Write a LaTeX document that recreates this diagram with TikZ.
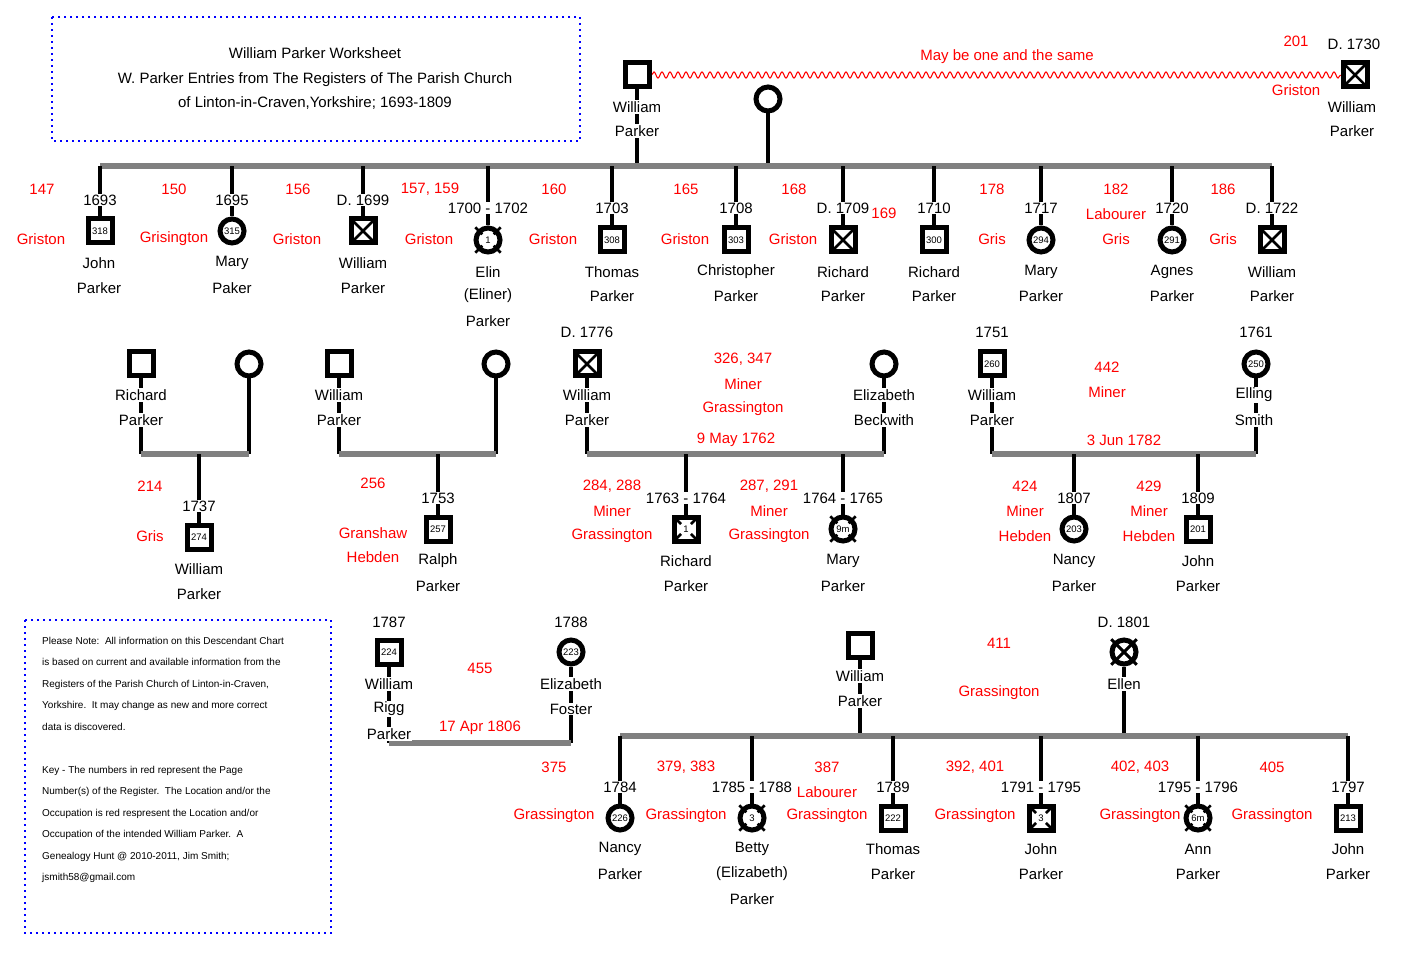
\documentclass[tikz,border=0pt]{standalone}
\usepackage{fontspec}
\setmainfont{Liberation Sans}
\usetikzlibrary{decorations.pathmorphing,backgrounds,calc}
\tikzset{
 x=1pt,y=-1pt,
 t/.style={font=\fontsize{15}{17}\selectfont, fill=white, inner sep=1pt},
 r/.style={font=\fontsize{15}{17}\selectfont, text=red, inner sep=1pt},
 m/.style={draw,line width=5pt,minimum size=24pt,inner sep=0pt,fill=white,font=\fontsize{9.5}{10}\selectfont},
 f/.style={m,circle},
 xfull/.style={path picture={\draw[line width=2.5pt] (path picture bounding box.north west) -- (path picture bounding box.south east) (path picture bounding box.north east) -- (path picture bounding box.south west);}},
 bar/.style={line width=5.5pt, draw=gray},
 v/.style={line width=4.5pt},
 box/.style={draw=blue,line width=2pt,dash pattern=on 2pt off 4pt},
}
\newcommand\ticks[3]{\foreach \a in {45,135,225,315}{\draw[line width=2.5pt] ($(#1.center)+(\a:#2)$) -- ($(#1.center)+(\a:#3)$);}}
\begin{document}
\begin{tikzpicture}
\useasboundingbox (0,0) rectangle (1411,957);
% title box
\draw[box] (52,17) rectangle (580,141);
\node[t,align=center,font=\fontsize{15}{24.5}\selectfont] (title) at (315,79) {William Parker Worksheet\\W. Parker Entries from The Registers of The Parish Church\\of Linton-in-Craven,Yorkshire; 1693-1809};
% note box
\draw[box] (25,620) rectangle (331,933);
\node[anchor=north west,align=left,inner sep=0pt,font=\fontsize{10}{21.5}\selectfont] (note) at (42,637) {Please Note:\ \ All information on this Descendant Chart\\is based on current and available information from the\\Registers of the Parish Church of Linton-in-Craven,\\Yorkshire.\ \ It may change as new and more correct\\data is discovered.\\[21.5pt]Key - The numbers in red represent the Page\\Number(s) of the Register.\ \ The Location and/or the\\Occupation is red respresent the Location and/or\\Occupation of the intended William Parker.\ \ A\\Genealogy Hunt @ 2010-2011, Jim Smith;\\jsmith58@gmail.com};

% ===== top generation
\node[m] (W0) at (637,75) {};
\node[t] at (637,107) {William};
\node[t] at (637,131) {Parker};
\node[f] (M0) at (768,99) {};
\node[m,xfull] (W1) at (1355,75) {};
\node[t] at (1352,107) {William};
\node[t] at (1352,131) {Parker};
\node[r] at (1296,41) {201};
\node[t] at (1354,44) {D. 1730};
\node[r] at (1296,90) {Griston};
\node[r] at (1007,57) {May be one and the same};
\coordinate (B1) at (0,166);

% gen1 children
\node[m] (c1) at (100,231) {318}; \node[t] at (100,200) {1693};
\node[t] at (99,263) {John}; \node[t] at (99,288) {Parker};
\node[r] at (42,189) {147}; \node[r] at (41,239) {Griston};
\node[f] (c2) at (232,231) {315}; \node[t] at (232,200) {1695};
\node[t] at (232,263) {Mary}; \node[t] at (232,288) {Paker};
\node[r] at (174,189) {150}; \node[r] at (174,239) {Grisington};
\node[m,xfull] (c3) at (363,231) {}; \node[t] at (363,200) {D. 1699};
\node[t] at (363,263) {William}; \node[t] at (363,288) {Parker};
\node[r] at (298,189) {156}; \node[r] at (297,239) {Griston};
\node[f] (c4) at (488,240) {1}; \node[t] at (488,208) {1700 - 1702};
\node[t] at (488,272) {Elin}; \node[t] at (488,296) {(Eliner)}; \node[t] at (488,321) {Parker};
\node[r] at (430,189) {157, 159}; \node[r] at (429,239) {Griston};
\node[m] (c5) at (612,240) {308}; \node[t] at (612,208) {1703};
\node[t] at (612,272) {Thomas}; \node[t] at (612,296) {Parker};
\node[r] at (554,189) {160}; \node[r] at (553,239) {Griston};
\node[m] (c6) at (736,240) {303}; \node[t] at (736,208) {1708};
\node[t] at (736,272) {Christopher}; \node[t] at (736,296) {Parker};
\node[r] at (686,189) {165}; \node[r] at (685,239) {Griston};
\node[m,xfull] (c7) at (843,240) {}; \node[t] at (843,208) {D. 1709};
\node[t] at (843,272) {Richard}; \node[t] at (843,296) {Parker};
\node[r] at (794,189) {168}; \node[r] at (793,239) {Griston}; \node[r] at (884,213) {169};
\node[m] (c8) at (934,240) {300}; \node[t] at (934,208) {1710};
\node[t] at (934,272) {Richard}; \node[t] at (934,296) {Parker};
\node[f] (c9) at (1041,240) {294}; \node[t] at (1041,208) {1717};
\node[t] at (1041,272) {Mary}; \node[t] at (1041,296) {Parker};
\node[r] at (992,189) {178}; \node[r] at (992,239) {Gris};
\node[f] (c10) at (1172,240) {291}; \node[t] at (1172,208) {1720};
\node[t] at (1172,272) {Agnes}; \node[t] at (1172,296) {Parker};
\node[r] at (1116,189) {182}; \node[r] at (1116,214) {Labourer}; \node[r] at (1116,239) {Gris};
\node[m,xfull] (c11) at (1272,240) {}; \node[t] at (1272,208) {D. 1722};
\node[t] at (1272,272) {William}; \node[t] at (1272,296) {Parker};
\node[r] at (1223,189) {186}; \node[r] at (1223,239) {Gris};

% ===== gen2 group A
\coordinate (B2) at (0,454);
\node[m] (RA) at (141,364) {}; \node[t] at (141,395) {Richard}; \node[t] at (141,420) {Parker};
\node[f] (FA) at (249,364) {};
\node[m] (KA) at (199,537) {274}; \node[t] at (199,506) {1737};
\node[t] at (199,569) {William}; \node[t] at (199,594) {Parker};
\node[r] at (150,486) {214}; \node[r] at (150,536) {Gris};
% group B
\node[m] (RB) at (339,364) {}; \node[t] at (339,395) {William}; \node[t] at (339,420) {Parker};
\node[f] (FB) at (496,364) {};
\node[m] (KB) at (438,529) {257}; \node[t] at (438,498) {1753};
\node[t] at (438,561) {Ralph}; \node[t] at (438,586) {Parker};
\node[r] at (373,483) {256}; \node[r] at (373,533) {Granshaw}; \node[r] at (373,557) {Hebden};
% group C
\node[m,xfull] (RC) at (587,364) {}; \node[t] at (587,332) {D. 1776};
\node[t] at (587,395) {William}; \node[t] at (587,420) {Parker};
\node[f] (FC) at (884,364) {}; \node[t] at (884,395) {Elizabeth}; \node[t] at (884,420) {Beckwith};
\node[r] at (743,359) {326, 347}; \node[r] at (743,384) {Miner}; \node[r] at (743,409) {Grassington};
\node[r] at (736,440) {9 May 1762};
\node[m] (KC1) at (686,529) {1}; \node[t] at (686,498) {1763 - 1764};
\node[t] at (686,561) {Richard}; \node[t] at (686,586) {Parker};
\node[r] at (612,486) {284, 288}; \node[r] at (612,511) {Miner}; \node[r] at (612,536) {Grassington};
\node[f] (KC2) at (843,529) {9m}; \node[t] at (843,498) {1764 - 1765};
\node[t] at (843,561) {Mary}; \node[t] at (843,586) {Parker};
\node[r] at (769,486) {287, 291}; \node[r] at (769,511) {Miner}; \node[r] at (769,536) {Grassington};
% group D
\node[m] (RD) at (992,364) {260}; \node[t] at (992,332) {1751};
\node[t] at (992,395) {William}; \node[t] at (992,420) {Parker};
\node[f] (FD) at (1256,364) {250}; \node[t] at (1256,332) {1761};
\node[t] at (1254,395) {Elling}; \node[t] at (1254,420) {Smith};
\node[r] at (1107,367) {442}; \node[r] at (1107,392) {Miner};
\node[r] at (1124,440) {3 Jun 1782};
\node[f] (KD1) at (1074,529) {203}; \node[t] at (1074,498) {1807};
\node[t] at (1074,561) {Nancy}; \node[t] at (1074,586) {Parker};
\node[r] at (1025,486) {424}; \node[r] at (1025,511) {Miner}; \node[r] at (1025,536) {Hebden};
\node[m] (KD2) at (1198,529) {201}; \node[t] at (1198,498) {1809};
\node[t] at (1198,561) {John}; \node[t] at (1198,586) {Parker};
\node[r] at (1149,486) {429}; \node[r] at (1149,511) {Miner}; \node[r] at (1149,536) {Hebden};

% ===== bottom: Rigg / Foster
\coordinate (B3) at (0,743);
\node[m] (WR) at (389,652) {224}; \node[t] at (389,622) {1787};
\node[t] at (389,684) {William}; \node[t] at (389,709) {Rigg}; \node[t] at (389,734) {Parker};
\node[f] (EF) at (571,652) {223}; \node[t] at (571,622) {1788};
\node[t] at (571,684) {Elizabeth}; \node[t] at (571,709) {Foster};
\node[r] at (480,668) {455}; \node[r] at (480,728) {17 Apr 1806};
% bottom right family
\coordinate (B4) at (0,736);
\node[m] (WB) at (860,645) {}; \node[t] at (860,676) {William}; \node[t] at (860,701) {Parker};
\node[f] (EB) at (1124,652) {}; \node[t] at (1124,622) {D. 1801}; \node[t] at (1124,684) {Ellen};
\node[r] at (999,643) {411}; \node[r] at (999,693) {Grassington};
\node[f] (k1) at (620,818) {226}; \node[t] at (620,787) {1784};
\node[t] at (620,849) {Nancy}; \node[t] at (620,874) {Parker};
\node[r] at (554,767) {375}; \node[r] at (554,816) {Grassington};
\node[f] (k2) at (752,818) {3}; \node[t] at (752,787) {1785 - 1788};
\node[t] at (752,849) {Betty}; \node[t] at (752,874) {(Elizabeth)}; \node[t] at (752,899) {Parker};
\node[r] at (686,767) {379, 383}; \node[r] at (686,816) {Grassington};
\node[m] (k3) at (893,818) {222}; \node[t] at (893,787) {1789};
\node[t] at (893,849) {Thomas}; \node[t] at (893,874) {Parker};
\node[r] at (827,767) {387}; \node[r] at (827,792) {Labourer}; \node[r] at (827,816) {Grassington};
\node[m] (k4) at (1041,818) {3}; \node[t] at (1041,787) {1791 - 1795};
\node[t] at (1041,849) {John}; \node[t] at (1041,874) {Parker};
\node[r] at (975,767) {392, 401}; \node[r] at (975,816) {Grassington};
\node[f] (k5) at (1198,818) {6m}; \node[t] at (1198,787) {1795 - 1796};
\node[t] at (1198,849) {Ann}; \node[t] at (1198,874) {Parker};
\node[r] at (1140,767) {402, 403}; \node[r] at (1140,816) {Grassington};
\node[m] (k6) at (1348,818) {213}; \node[t] at (1348,787) {1797};
\node[t] at (1348,849) {John}; \node[t] at (1348,874) {Parker};
\node[r] at (1272,767) {405}; \node[r] at (1272,816) {Grassington};

% death ticks
\ticks{c4}{8}{18}
\ticks{KC2}{8}{18}
\ticks{k2}{8}{18}
\ticks{k5}{8}{18}
\ticks{KC1}{7}{17}
\ticks{k4}{7}{17}
\ticks{EB}{-18}{18}

% ===== connectors on background
\begin{scope}[on background layer]
\draw[red,line width=1.1pt,decorate,decoration={snake,amplitude=3pt,segment length=8pt}] (W0.east) -- (W1.west);
\draw[v] (W0.south) -- (W0.south|-B1);
\draw[v] (M0.south) -- (M0.south|-B1);
\draw[bar] (c1.north|-B1) -- (c11.north|-B1);
\foreach \n in {c1,c2,c3,c4,c5,c6,c7,c8,c9,c10,c11} \draw[v] (\n.north) -- (\n.north|-B1);
% group A
\draw[v] (RA.south) -- (RA.south|-B2);
\draw[v] (FA.south) -- (FA.south|-B2);
\draw[bar] (RA.south|-B2) -- (FA.south|-B2);
\draw[v] (KA.north) -- (KA.north|-B2);
% group B
\draw[v] (RB.south) -- (RB.south|-B2);
\draw[v] (FB.south) -- (FB.south|-B2);
\draw[bar] (RB.south|-B2) -- (FB.south|-B2);
\draw[v] (KB.north) -- (KB.north|-B2);
% group C
\draw[v] (RC.south) -- (RC.south|-B2);
\draw[v] (FC.south) -- (FC.south|-B2);
\draw[bar] (RC.south|-B2) -- (FC.south|-B2);
\draw[v] (KC1.north) -- (KC1.north|-B2);
\draw[v] (KC2.north) -- (KC2.north|-B2);
% group D
\draw[v] (RD.south) -- (RD.south|-B2);
\draw[v] (FD.south) -- (FD.south|-B2);
\draw[bar] (RD.south|-B2) -- (FD.south|-B2);
\draw[v] (KD1.north) -- (KD1.north|-B2);
\draw[v] (KD2.north) -- (KD2.north|-B2);
% Rigg / Foster
\draw[v] (WR.south) -- (WR.south|-B3);
\draw[v] (EF.south) -- (EF.south|-B3);
\draw[bar] (WR.south|-B3) -- (EF.south|-B3);
% bottom right
\draw[v] (WB.south) -- (WB.south|-B4);
\draw[v] (EB.south) -- (EB.south|-B4);
\draw[bar] (k1.north|-B4) -- (k6.north|-B4);
\foreach \n in {k1,k2,k3,k4,k5,k6} \draw[v] (\n.north) -- (\n.north|-B4);
\end{scope}
\end{tikzpicture}
\end{document}
